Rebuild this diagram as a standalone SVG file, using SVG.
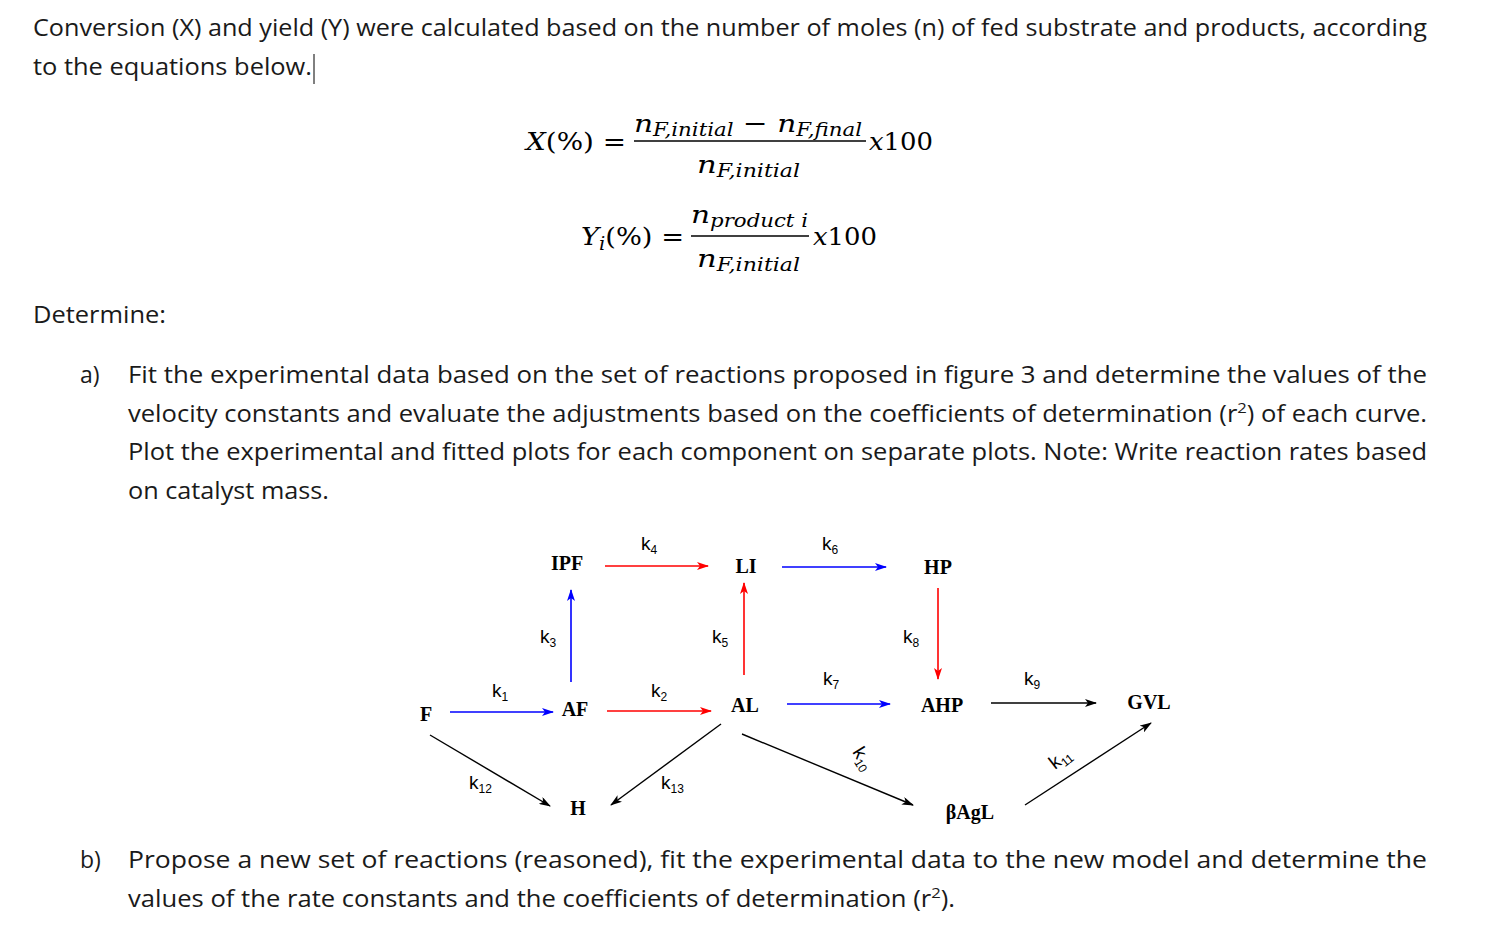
<svg xmlns="http://www.w3.org/2000/svg" width="1505" height="927" viewBox="0 0 1505 927">
<style>
.t{font-family:"Open Sans","Liberation Sans",sans-serif;font-size:23px;fill:#1a1a1a}
.m{font-family:"DejaVu Serif","Liberation Serif",serif;font-style:italic;font-size:25px;fill:#000}
.ms{font-family:"DejaVu Serif","Liberation Serif",serif;font-style:italic;font-size:18px;fill:#000}
.mu{font-family:"DejaVu Serif","Liberation Serif",serif;font-style:normal;font-size:25px;fill:#000}
.n{font-family:"Liberation Serif","Times New Roman",serif;font-weight:bold;font-size:20px;fill:#000;text-anchor:middle}
.k{font-family:"Liberation Sans",Arial,sans-serif;font-size:19px;fill:#000}
.ks{font-size:12px}
.b{stroke:#0000ff;stroke-width:1.6;fill:none;marker-end:url(#ab)}
.r{stroke:#ff0000;stroke-width:1.6;fill:none;marker-end:url(#ar)}
.k0{stroke:#000;stroke-width:1.4;fill:none;marker-end:url(#ak)}
</style>
<defs>
<marker id="ab" markerWidth="12" markerHeight="8" refX="11" refY="4" orient="auto" markerUnits="userSpaceOnUse"><path d="M0,0L12,4L0,8L3,4Z" fill="#0000ff"/></marker>
<marker id="ar" markerWidth="12" markerHeight="8" refX="11" refY="4" orient="auto" markerUnits="userSpaceOnUse"><path d="M0,0L12,4L0,8L3,4Z" fill="#ff0000"/></marker>
<marker id="ak" markerWidth="12" markerHeight="8" refX="11" refY="4" orient="auto" markerUnits="userSpaceOnUse"><path d="M0,0L12,4L0,8L3,4Z" fill="#000"/></marker>
</defs>
<rect width="1505" height="927" fill="#fff"/>
<g id="text">
<text class="t" x="33" y="36" textLength="1394" lengthAdjust="spacingAndGlyphs">Conversion (X) and yield (Y) were calculated based on the number of moles (n) of fed substrate and products, according</text>
<text class="t" x="33" y="75" textLength="279" lengthAdjust="spacingAndGlyphs">to the equations below.</text>
<line x1="314" y1="54" x2="314" y2="84" stroke="#000" stroke-width="1"/>
<text class="t" x="33" y="323" textLength="133" lengthAdjust="spacingAndGlyphs">Determine:</text>
<text class="t" x="80" y="383">a)</text>
<text class="t" x="128" y="383" textLength="1299" lengthAdjust="spacingAndGlyphs">Fit the experimental data based on the set of reactions proposed in figure 3 and determine the values of the</text>
<text class="t" x="128" y="422" textLength="1299" lengthAdjust="spacingAndGlyphs">velocity constants and evaluate the adjustments based on the coefficients of determination (r<tspan font-size="15" dy="-9">2</tspan><tspan dy="9">) of each curve.</tspan></text>
<text class="t" x="128" y="460" textLength="1299" lengthAdjust="spacingAndGlyphs">Plot the experimental and fitted plots for each component on separate plots. Note: Write reaction rates based</text>
<text class="t" x="128" y="499" textLength="201" lengthAdjust="spacingAndGlyphs">on catalyst mass.</text>
<text class="t" x="80" y="868">b)</text>
<text class="t" x="128" y="868" textLength="1299" lengthAdjust="spacingAndGlyphs">Propose a new set of reactions (reasoned), fit the experimental data to the new model and determine the</text>
<text class="t" x="128" y="907" textLength="827" lengthAdjust="spacingAndGlyphs">values of the rate constants and the coefficients of determination (r<tspan font-size="15" dy="-9">2</tspan><tspan dy="9">).</tspan></text>
</g>
<g id="equations">
<text class="m" x="526" y="150" textLength="100" lengthAdjust="spacingAndGlyphs">X<tspan class="mu">(%) =</tspan></text>
<text class="m" x="634" y="132" textLength="228" lengthAdjust="spacingAndGlyphs">n<tspan class="ms" dy="4">F,initial</tspan><tspan class="mu" dy="-4"> − </tspan>n<tspan class="ms" dy="4">F,final</tspan></text>
<line x1="634" y1="141" x2="866" y2="141" stroke="#000" stroke-width="1.5"/>
<text class="m" x="697" y="173" textLength="103" lengthAdjust="spacingAndGlyphs">n<tspan class="ms" dy="4">F,initial</tspan></text>
<text class="m" x="869" y="150" textLength="64" lengthAdjust="spacingAndGlyphs">x<tspan class="mu">100</tspan></text>
<text class="m" x="581" y="245" textLength="103" lengthAdjust="spacingAndGlyphs">Y<tspan class="ms" dy="5">i</tspan><tspan class="mu" dy="-5">(%) =</tspan></text>
<text class="m" x="691" y="223" textLength="117" lengthAdjust="spacingAndGlyphs">n<tspan class="ms" dy="4">product i</tspan></text>
<line x1="691" y1="236" x2="809" y2="236" stroke="#000" stroke-width="1.5"/>
<text class="m" x="697" y="267" textLength="103" lengthAdjust="spacingAndGlyphs">n<tspan class="ms" dy="4">F,initial</tspan></text>
<text class="m" x="813" y="245" textLength="64" lengthAdjust="spacingAndGlyphs">x<tspan class="mu">100</tspan></text>
</g>
<g id="nodes">
<g id="F"><text class="n" x="426" y="721">F</text></g>
<g id="AF"><text class="n" x="575" y="716">AF</text></g>
<g id="AL"><text class="n" x="745" y="712">AL</text></g>
<g id="AHP"><text class="n" x="942" y="712">AHP</text></g>
<g id="GVL"><text class="n" x="1149" y="709">GVL</text></g>
<g id="IPF"><text class="n" x="567" y="570">IPF</text></g>
<g id="LI"><text class="n" x="746" y="573">LI</text></g>
<g id="HP"><text class="n" x="938" y="574">HP</text></g>
<g id="H"><text class="n" x="578" y="815">H</text></g>
<g id="BAgL"><text class="n" x="970" y="819">βAgL</text></g>
</g>
<g id="connectors">
<line class="b" x1="450" y1="712" x2="553" y2="712"/>
<line class="r" x1="607" y1="711" x2="711" y2="711"/>
<line class="b" x1="787" y1="704" x2="890" y2="704"/>
<line class="k0" x1="991" y1="703" x2="1096" y2="703"/>
<line class="r" x1="605" y1="566" x2="708" y2="566"/>
<line class="b" x1="782" y1="567" x2="886" y2="567"/>
<line class="b" x1="571" y1="682" x2="571" y2="590"/>
<line class="r" x1="744" y1="675" x2="744" y2="583"/>
<line class="r" x1="938" y1="588" x2="938" y2="679"/>
<line class="k0" x1="430" y1="735" x2="550" y2="806"/>
<line class="k0" x1="721" y1="724" x2="611" y2="805"/>
<line class="k0" x1="742" y1="734" x2="913" y2="805"/>
<line class="k0" x1="1025" y1="805" x2="1151" y2="723"/>
</g>
<g id="labels">
<text class="k" x="641" y="550">k<tspan class="ks" dy="4">4</tspan></text>
<text class="k" x="822" y="550">k<tspan class="ks" dy="4">6</tspan></text>
<text class="k" x="540" y="643">k<tspan class="ks" dy="4">3</tspan></text>
<text class="k" x="712" y="643">k<tspan class="ks" dy="4">5</tspan></text>
<text class="k" x="903" y="643">k<tspan class="ks" dy="4">8</tspan></text>
<text class="k" x="492" y="697">k<tspan class="ks" dy="4">1</tspan></text>
<text class="k" x="651" y="697">k<tspan class="ks" dy="4">2</tspan></text>
<text class="k" x="823" y="685">k<tspan class="ks" dy="4">7</tspan></text>
<text class="k" x="1024" y="685">k<tspan class="ks" dy="4">9</tspan></text>
<text class="k" x="469" y="789">k<tspan class="ks" dy="4">12</tspan></text>
<text class="k" x="661" y="789">k<tspan class="ks" dy="4">13</tspan></text>
<text class="k" transform="translate(852,752) rotate(58)">k<tspan class="ks" dy="4">10</tspan></text>
<text class="k" transform="translate(1055,770) rotate(-38)">k<tspan class="ks" dy="4">11</tspan></text>
</g>
</svg>
